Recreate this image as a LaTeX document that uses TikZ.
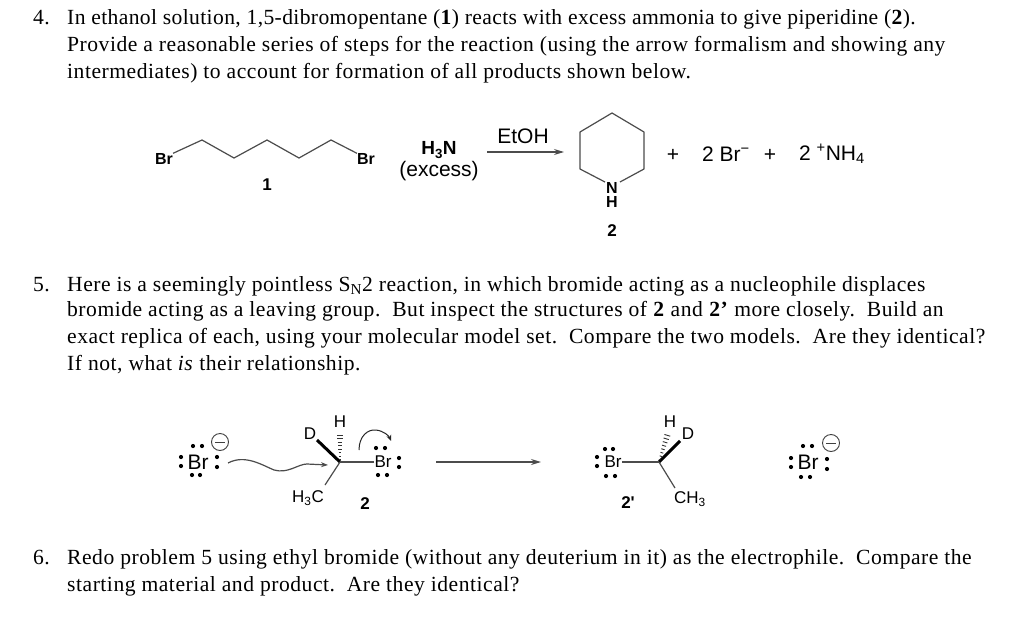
\documentclass[tikz,border=0pt]{standalone}
\usepackage{fontspec}
\setmainfont{Liberation Serif}
\setsansfont[Ligatures=TeXOff]{Liberation Sans}
\usetikzlibrary{arrows.meta,calc}
\tikzset{
  x=1pt,y=-1pt,
  para/.style={anchor=base west,inner sep=0pt,font=\fontsize{21.6}{24}\selectfont\addfontfeatures{LetterSpace=2.4}},
  paratight/.style={anchor=base west,inner sep=0pt,font=\fontsize{21.6}{24}\selectfont\addfontfeatures{LetterSpace=1.7}},
  atom/.style={inner sep=0pt,font=\sffamily\fontsize{17}{19}\selectfont},
  batom/.style={inner sep=0pt,font=\sffamily\bfseries\fontsize{16}{18}\selectfont},
  label/.style={inner sep=0pt,font=\sffamily\fontsize{21}{24}\selectfont},
  lbl/.style={inner sep=0pt,font=\sffamily\bfseries\fontsize{17}{19}\selectfont},
  bond/.style={draw=black!70,line width=1.2pt},
  boldbond/.style={draw=black,line width=3pt},
  rxn/.style={draw=black!70,line width=1.2pt,-{Stealth[length=10pt,width=6pt]}},
  charge/.style={draw=black!75,circle,line width=0.9pt,minimum size=17pt,inner sep=0pt},
}
\newcommand{\lpair}[4]{\fill (#1,#2) circle (2.1pt) (#3,#4) circle (2.1pt);}
\begin{document}
\begin{tikzpicture}
\useasboundingbox (0,0) rectangle (1024,629);
\fill[white] (0,0) rectangle (1024,629);
% text paragraphs
\node[para] (q1) at (33,24) {4.};
\node[paratight] (p1) at (67,24) {In ethanol solution, 1,5-dibromopentane (\textbf{1}) reacts with excess ammonia to give piperidine (\textbf{2}).};
\node[para] (p2) at (67,51) {Provide a reasonable series of steps for the reaction (using the arrow formalism and showing any};
\node[para] (p3) at (67,78) {intermediates) to account for formation of all products shown below.};
\node[para] (q4) at (33,291) {5.};
\node[para] (p4) at (67,291) {Here is a seemingly pointless S\textsubscript{N}2 reaction, in which bromide acting as a nucleophile displaces};
\node[para] (p5) at (67,316) {bromide acting as a leaving group.\ \ But inspect the structures of \textbf{2} and \textbf{2’} more closely.\ \ Build an};
\node[para] (p6) at (67,343) {exact replica of each, using your molecular model set.\ \ Compare the two models.\ \ Are they identical?};
\node[para] (p7) at (67,370) {If not, what \textit{is} their relationship.};
\node[para] (q8) at (33,564) {6.};
\node[para] (p8) at (67,564) {Redo problem 5 using ethyl bromide (without any deuterium in it) as the electrophile.\ \ Compare the};
\node[para] (p9) at (67,591) {starting material and product.\ \ Are they identical?};
% dibromopentane
\node[batom] (brA) at (164,159) {Br};
\node[batom] (brB) at (366,159) {Br};
\coordinate (c1) at (202,140);
\coordinate (c2) at (234,158);
\coordinate (c3) at (267,140);
\coordinate (c4) at (299,158);
\coordinate (c5) at (331,140);
\draw[bond] (brA.north east) -- (c1) -- (c2) -- (c3) -- (c4) -- (c5) -- (brB.north west);
\node[lbl] (n1) at (267,185) {1};
\node[inner sep=0pt,font=\sffamily\bfseries\fontsize{19}{21}\selectfont] (nh3) at (439,150) {H\textsubscript{3}N};
\node[label] (exc) at (439,171) {(excess)};
\coordinate (a1s) at (487,152);
\coordinate (a1e) at (564,152);
\draw[rxn] (a1s) -- (a1e);
\node[label] (etoh) at (523,136) {EtOH};
% piperidine
\node[batom] (pipN) at (612,188) {N};
\node[batom] (pipH) at (612,202) {H};
\coordinate (r1) at (620,182);
\coordinate (r2) at (644,169);
\coordinate (r3) at (644,132);
\coordinate (r4) at (612,113);
\coordinate (r5) at (580,132);
\coordinate (r6) at (580,169);
\coordinate (r7) at (605,182);
\draw[bond,line join=round] (r1) -- (r2) -- (r3) -- (r4) -- (r5) -- (r6) -- (r7);
\node[lbl] (n2) at (612,231) {2};
\node[label] (pl1) at (673,155) {+};
\node[label] (brm) at (726,154) {2 Br\textsuperscript{−}};
\node[label] (pl2) at (770,155) {+};
\node[label] (nh4) at (832,154) {2 \textsuperscript{+}NH\textsubscript{4}};
% lower left
\node[label] (brC) at (198,462) {Br};
\lpair{181}{457}{181}{466}\lpair{217}{457}{217}{467}\lpair{193}{446}{202}{446}\lpair{192}{475}{200}{475}
\node[charge] (mC) at (220,442) {};
\draw[draw=black!75,line width=1pt] (215,442) -- (225,442);
\coordinate (cA) at (340,462);
\node[atom] (dA) at (310,434) {D};
\node[atom] (hA) at (340,422) {H};
\node[atom] (brD) at (383,462) {Br};
\node[atom] (meA) at (308,498) {H\textsubscript{3}C};
\coordinate (dAb) at (317,440);
\coordinate (hAb) at (340,433);
\coordinate (meAb) at (325,485);
\draw[boldbond] (cA) -- (dAb);
\foreach \t/\w in {0.08/0.8,0.2/1.1,0.32/1.4,0.44/1.7,0.56/2,0.68/2.3,0.8/2.6,0.92/2.9}
  \draw[draw=black!80,line width=0.9pt] ($(cA)!\t!(hAb)+(-\w,0)$) -- ($(cA)!\t!(hAb)+(\w,0)$);
\draw[bond] (cA) -- (brD.west);
\draw[bond] (cA) -- (meAb);
\node[lbl] (n2a) at (365,504) {2};
\lpair{376}{448}{385}{448}\lpair{378}{475}{387}{475}\lpair{399}{458}{399}{467}
\coordinate (wavS) at (228,463);
\coordinate (wavE) at (328,465);
\draw[rxn,-{Stealth[length=7pt,width=5pt]}] (wavS) .. controls (245,454) and (262,465) .. (274,470) .. controls (288,474) and (298,464) .. (307,464) -- (wavE);
\coordinate (curS) at (359,450);
\coordinate (curE) at (391,441);
\draw[draw=black!85,line width=1pt,-{Stealth[length=6pt,width=5pt]}] (curS) .. controls (359,436) and (368,429) .. (376,430) .. controls (384,431) and (389,436) .. (curE);
% reaction arrow
\coordinate (a2s) at (436,462);
\coordinate (a2e) at (541,462);
\draw[rxn] (a2s) -- (a2e);
% lower right
\coordinate (cB) at (659,462);
\node[atom] (brE) at (613,462) {Br};
\node[atom] (hB) at (670,422) {H};
\node[atom] (dB) at (688,434) {D};
\node[atom] (meB) at (690,499) {CH\textsubscript{3}};
\coordinate (dBb) at (680,441);
\coordinate (hBb) at (668,433);
\coordinate (meBb) at (675,488);
\draw[boldbond] (cB) -- (dBb);
\foreach \t/\w in {0.08/0.8,0.2/1.1,0.32/1.4,0.44/1.7,0.56/2,0.68/2.3,0.8/2.6,0.92/2.9}
  \draw[draw=black!80,line width=0.9pt] ($(cB)!\t!(hBb)+(-\w,-0.3*\w)$) -- ($(cB)!\t!(hBb)+(\w,0.3*\w)$);
\draw[bond] (cB) -- (brE.east);
\draw[bond] (cB) -- (meBb);
\node[lbl] (n2p) at (628,503) {2'};
\lpair{597}{457}{597}{466}\lpair{605}{449}{613}{449}\lpair{606}{476}{615}{476}
% far right bromide
\node[label] (brF) at (808,462) {Br};
\lpair{791}{458}{791}{467}\lpair{827}{459}{827}{469}\lpair{803}{446}{812}{446}\lpair{801}{477}{810}{477}
\node[charge] (mF) at (831,443) {};
\draw[draw=black!75,line width=1pt] (826,443) -- (836,443);
\end{tikzpicture}
\end{document}
